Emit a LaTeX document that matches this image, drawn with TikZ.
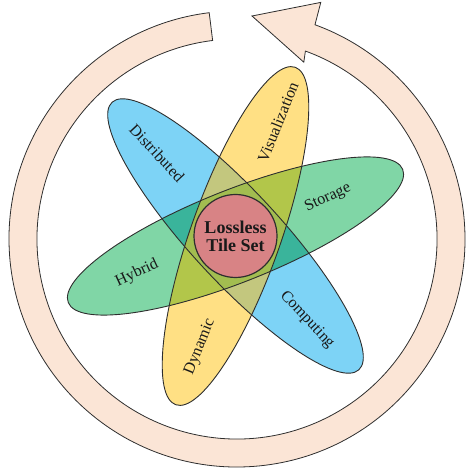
\documentclass[tikz,border=0pt]{standalone}
\usepackage{fontspec}
\setmainfont{Liberation Serif}
\definecolor{ringfill}{HTML}{FBE5D6}
\definecolor{edgecol}{HTML}{2E2E2E}
\definecolor{cblue}{HTML}{7DD3F6}
\definecolor{cyellow}{HTML}{FFE084}
\definecolor{cgreen}{HTML}{80D6A6}
\definecolor{cBY}{HTML}{C3C77E}
\definecolor{cBG}{HTML}{3AB49B}
\definecolor{cYG}{HTML}{B2C64A}
\definecolor{cBYG}{HTML}{A2BD50}
\definecolor{cpink}{HTML}{D88385}
\tikzset{
  elldraw/.style={draw=edgecol, line width=0.9pt},
  lbl/.style={font=\fontsize{16}{18}\selectfont, text=black!90},
  centerlbl/.style={font=\fontsize{18}{20}\selectfont\bfseries, text=black!90, align=center},
}
\newcommand{\BlueE}{[rotate=-47.3] (0,0) ellipse [x radius=182, y radius=45]}
\newcommand{\YellowE}{[rotate=70.5] (0,0) ellipse [x radius=179, y radius=45]}
\newcommand{\GreenE}{[rotate=21.7] (0,0) ellipse [x radius=180, y radius=46]}
\begin{document}
\begin{tikzpicture}[x=1pt,y=1pt]
\useasboundingbox (0,0) rectangle (474,474);
% ring arrow
\begin{scope}[shift={(237,235)}]
  \coordinate (tip) at (15,223);
  \filldraw[fill=ringfill, draw=edgecol, line width=0.8pt, line join=miter]
    (97:228) arc[start angle=97, end angle=430, radius=228]
    -- (70.5:251) -- (tip) -- (69.3:189)
    -- (430:200) arc[start angle=430, end angle=97, radius=200] -- cycle;
\end{scope}
% ellipses
\begin{scope}[shift={(235.5,238)}]
  \coordinate (O) at (0,0);
  \fill[cblue] \BlueE;
  \fill[cyellow] \YellowE;
  \fill[cgreen] \GreenE;
  \begin{scope}
    \clip \BlueE;
    \fill[cBY] \YellowE;
    \fill[cBG] \GreenE;
    \begin{scope}
      \clip \YellowE;
      \fill[cBYG] \GreenE;
    \end{scope}
  \end{scope}
  \begin{scope}
    \clip \YellowE;
    \fill[cYG] \GreenE;
    \begin{scope}
      \clip \BlueE;
      \fill[cBYG] \GreenE;
    \end{scope}
  \end{scope}
  \draw[elldraw] \BlueE;
  \draw[elldraw] \YellowE;
  \draw[elldraw] \GreenE;
  \node[circle, minimum size=83pt, inner sep=0pt, fill=cpink, draw=edgecol, line width=1.2pt, centerlbl] (core) at (O) {Lossless\\[-2pt]Tile Set};
\end{scope}
% labels
\node[lbl, rotate=-47] (dist) at (157,321) {Distributed};
\node[lbl, rotate=-47] (comp) at (307,154) {Computing};
\node[lbl, rotate=68] (vis) at (278,352) {Visualization};
\node[lbl, rotate=68] (dyn) at (200,127) {Dynamic};
\node[lbl, rotate=25] (stor) at (328,276) {Storage};
\node[lbl, rotate=25] (hyb) at (137,201) {Hybrid};
\end{tikzpicture}
\end{document}
